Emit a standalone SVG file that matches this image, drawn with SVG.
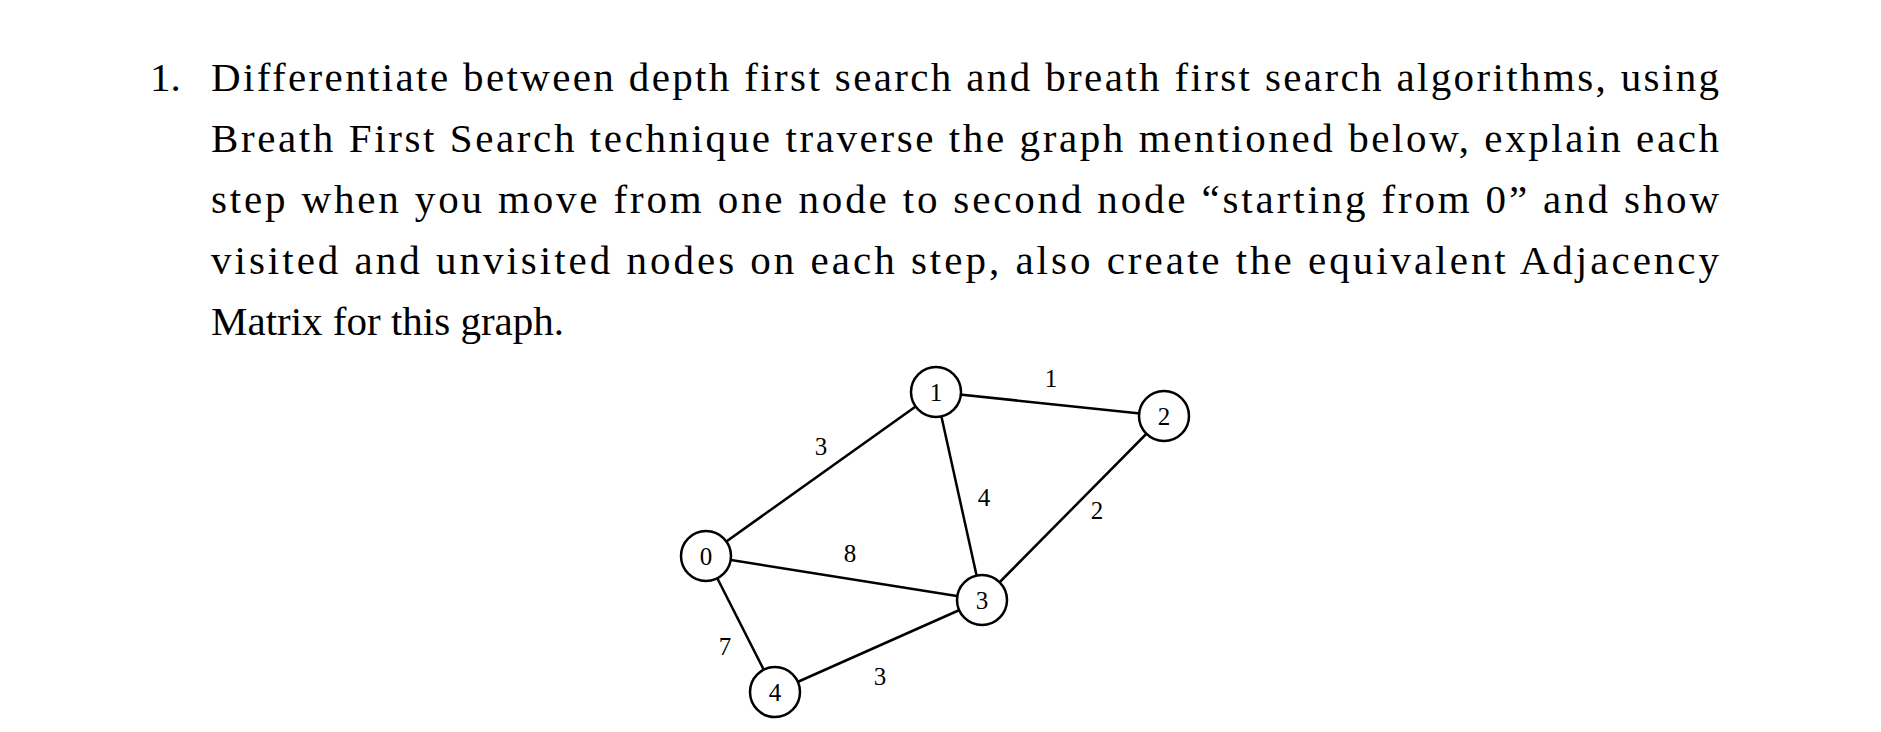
<svg xmlns="http://www.w3.org/2000/svg" width="1881" height="732" viewBox="0 0 1881 732">
<style>
.t{font-family:"Liberation Serif","Times New Roman",serif;font-size:41px;fill:#000}
.n circle{fill:#fff;stroke:#000;stroke-width:2.5}
.n text,.l{font-family:"Liberation Serif",serif;font-size:25px;fill:#000;text-anchor:middle}
.e line{stroke:#000;stroke-width:2.5}
</style>
<rect width="1881" height="732" fill="#fff"/>
<g id="question">
<text class="t" x="150" y="91">1.</text>
<text class="t" x="211" y="91" textLength="1508" lengthAdjust="spacing">Differentiate between depth first search and breath first search algorithms, using</text>
<text class="t" x="211" y="152" textLength="1508" lengthAdjust="spacing">Breath First Search technique traverse the graph mentioned below, explain each</text>
<text class="t" x="211" y="213" textLength="1508" lengthAdjust="spacing">step when you move from one node to second node “starting from 0” and show</text>
<text class="t" x="211" y="274" textLength="1508" lengthAdjust="spacing">visited and unvisited nodes on each step, also create the equivalent Adjacency</text>
<text class="t" x="211" y="335">Matrix for this graph.</text>
</g>
<g id="edges" class="e">
<line x1="706" y1="556" x2="936" y2="392"/>
<line x1="936" y1="392" x2="1164" y2="416"/>
<line x1="936" y1="392" x2="982" y2="600"/>
<line x1="1164" y1="416" x2="982" y2="600"/>
<line x1="706" y1="556" x2="982" y2="600"/>
<line x1="706" y1="556" x2="775" y2="692"/>
<line x1="775" y1="692" x2="982" y2="600"/>
</g>
<g id="edge-labels">
<text class="l" x="1051" y="387">1</text>
<text class="l" x="821" y="455">3</text>
<text class="l" x="984" y="506">4</text>
<text class="l" x="1097" y="519">2</text>
<text class="l" x="850" y="562">8</text>
<text class="l" x="725" y="655">7</text>
<text class="l" x="880" y="685">3</text>
</g>
<g id="node0" class="n"><circle cx="706" cy="556" r="25"/><text x="706" y="565">0</text></g>
<g id="node1" class="n"><circle cx="936" cy="392" r="25"/><text x="936" y="401">1</text></g>
<g id="node2" class="n"><circle cx="1164" cy="416" r="25"/><text x="1164" y="425">2</text></g>
<g id="node3" class="n"><circle cx="982" cy="600" r="25"/><text x="982" y="609">3</text></g>
<g id="node4" class="n"><circle cx="775" cy="692" r="25"/><text x="775" y="701">4</text></g>
</svg>
